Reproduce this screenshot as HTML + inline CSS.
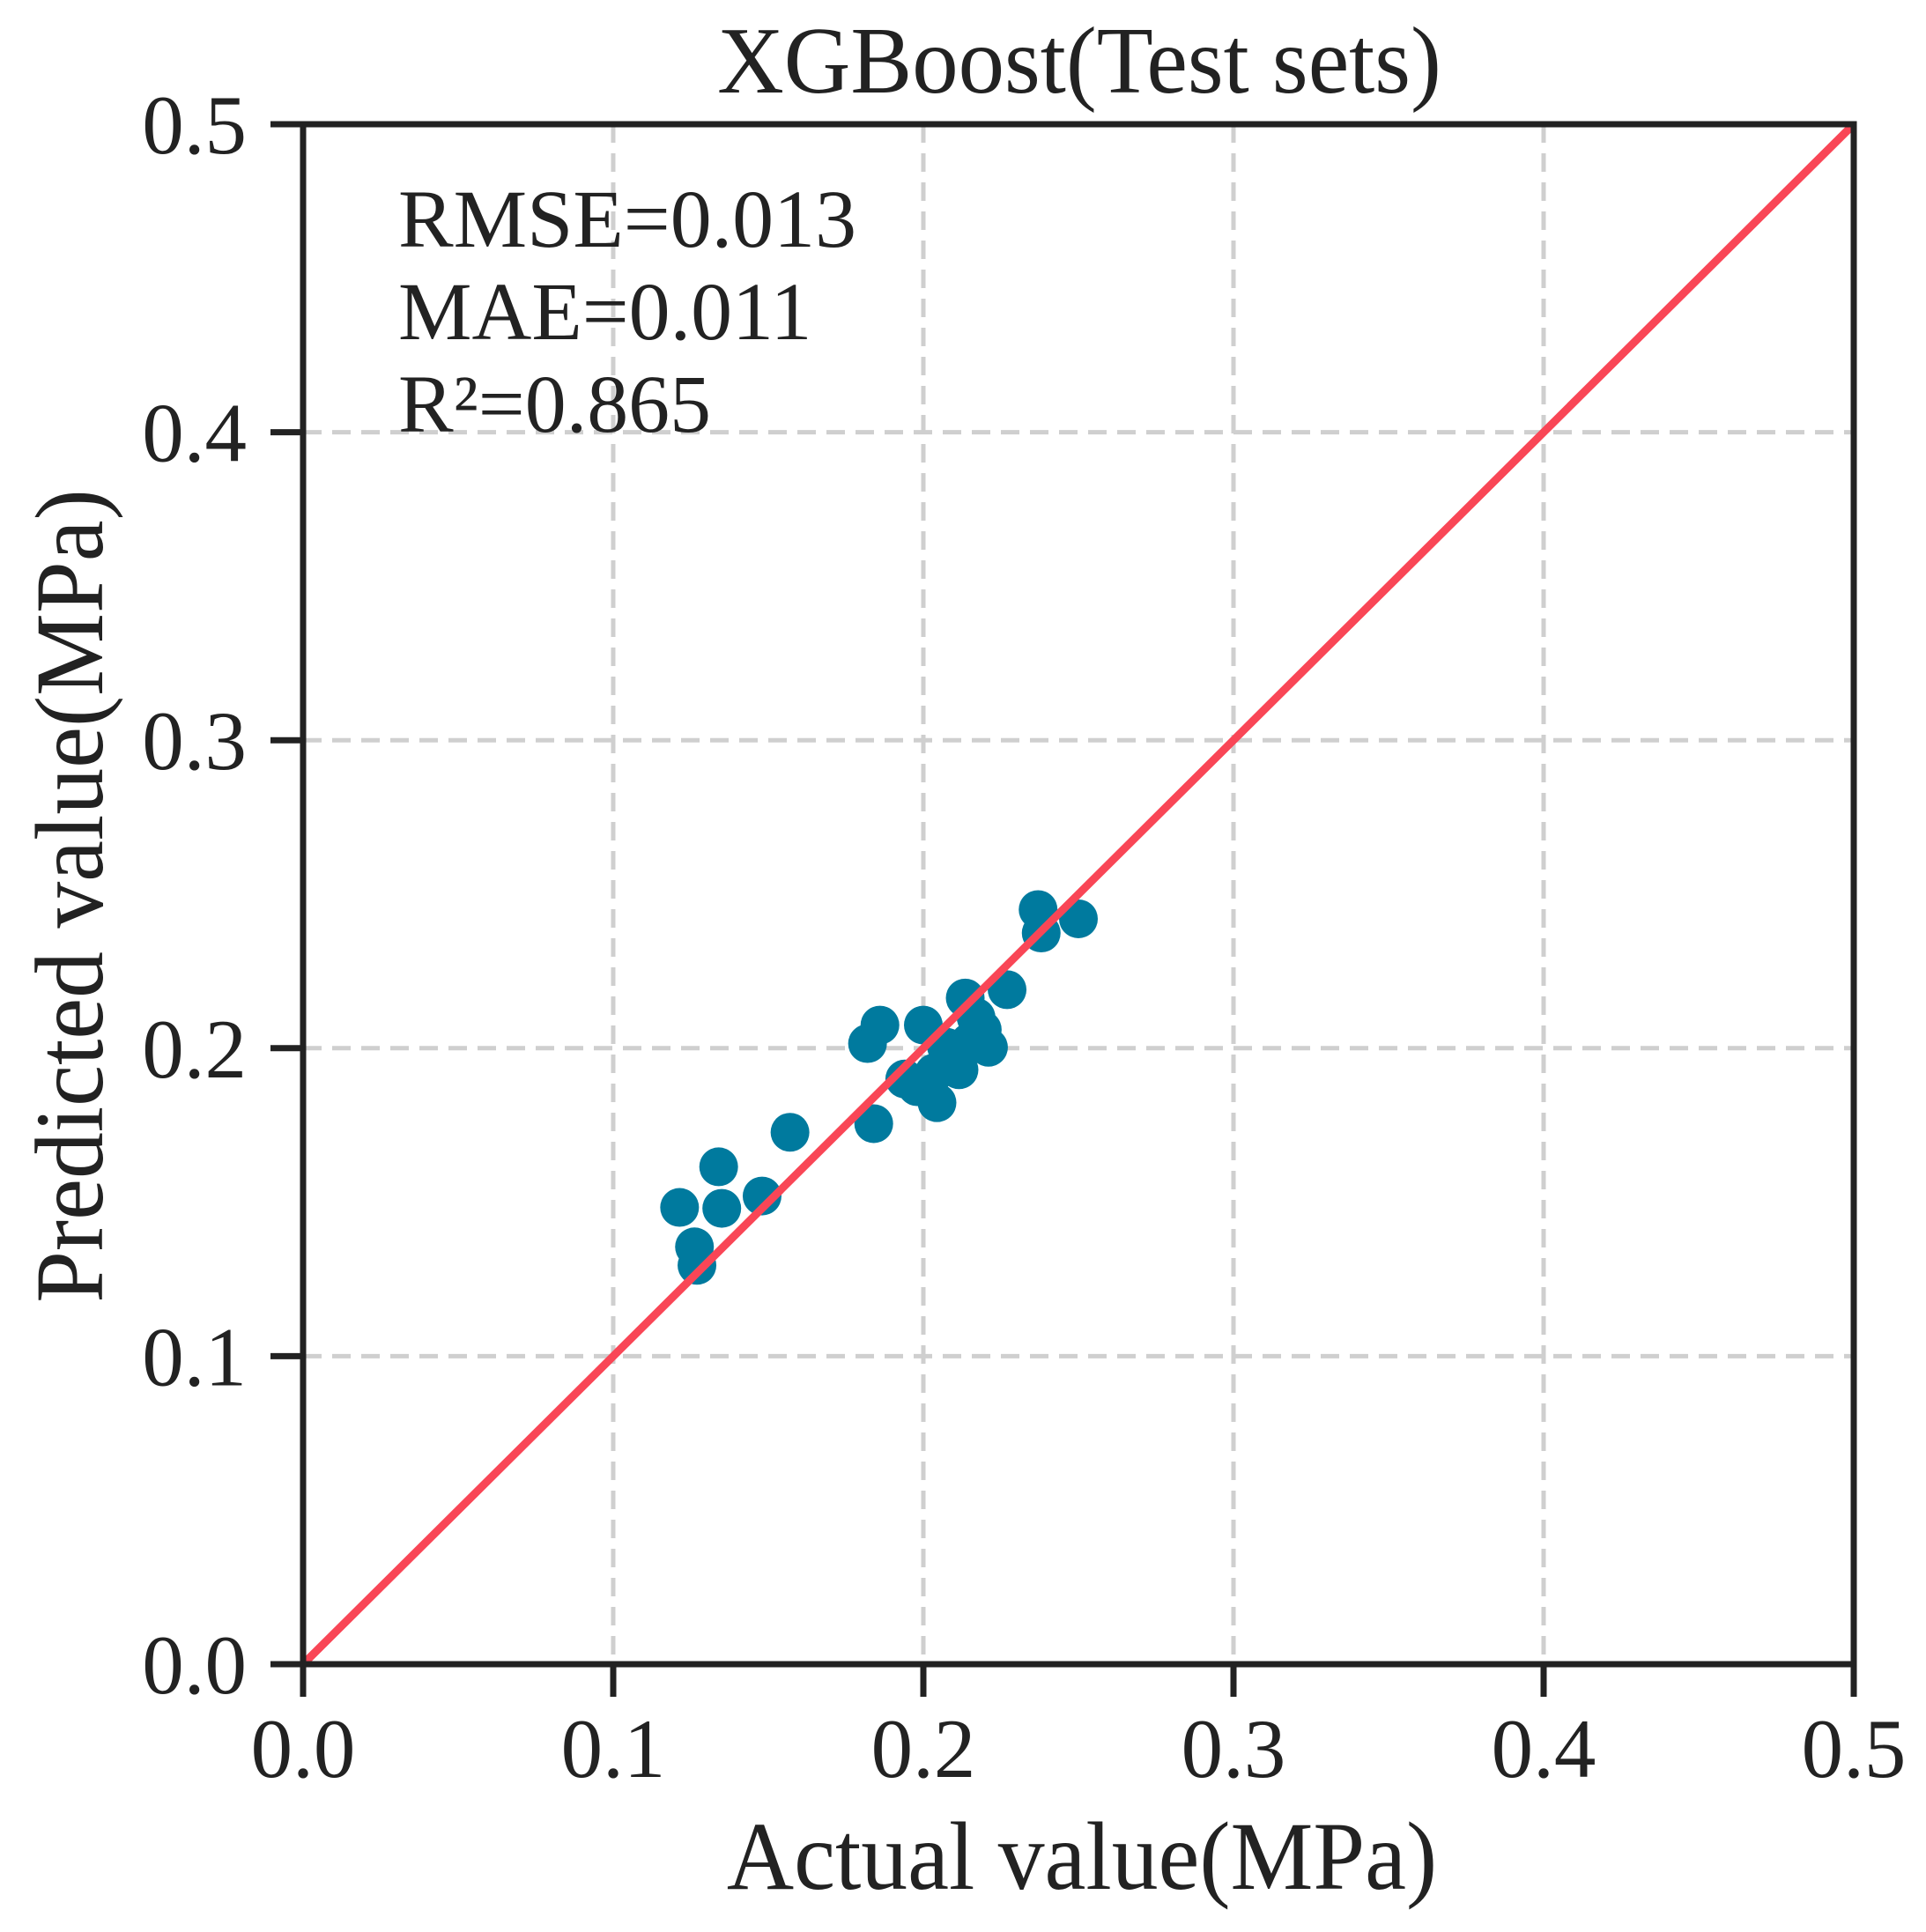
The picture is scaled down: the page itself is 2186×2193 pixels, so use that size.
<!DOCTYPE html>
<html><head><meta charset="utf-8"><style>
html,body{margin:0;padding:0;background:#fff;}
svg{display:block;}
text{font-family:"Liberation Serif","Times New Roman",serif;fill:#222;}
</style></head><body>
<svg id="chart" width="2186" height="2193" viewBox="0 0 2186 2193" xmlns="http://www.w3.org/2000/svg">
<g id="grid"></g>
<g id="points"></g>
<g id="fitline"></g>
<g id="axes"></g>
<g id="labels"></g>
</svg>
<script>
const actualValues = [0.1214,0.1262,0.127,0.134,0.135,0.148,0.157,0.182,0.186,0.184,0.2,0.194,0.198,0.2044,0.2035,0.2115,0.2135,0.219,0.221,0.227,0.215,0.2075,0.217,0.237,0.238,0.250];
const predictedValues = [0.1483,0.1355,0.1295,0.1615,0.148,0.152,0.1727,0.2015,0.2075,0.1755,0.2075,0.190,0.1875,0.1823,0.192,0.193,0.2163,0.206,0.2003,0.219,0.202,0.2003,0.210,0.245,0.2374,0.242];
const tickValues = [0.0,0.1,0.2,0.3,0.4,0.5];
const tickLabels = ["0.0","0.1","0.2","0.3","0.4","0.5"];
const metricLines = ["RMSE=0.013","MAE=0.011","R\u00B2=0.865"];

const NS="http://www.w3.org/2000/svg";
const L=344,R=2104,T=141,B=1889;
const xs=v=>L+(v-0)/(0.5-0)*(R-L);
const ys=v=>B-(v-0)/(0.5-0)*(B-T);
function mk(tag,attrs,parent){const e=document.createElementNS(NS,tag);for(const k in attrs)e.setAttribute(k,attrs[k]);parent.appendChild(e);return e;}
function txt(parent,x,y,s,size,anchor,rot,sx){
  const e=mk('text',{transform:`translate(${x},${y}) ${rot?'rotate(-90) ':''}scale(${sx},1)`,'font-size':size,'text-anchor':anchor},parent);
  e.textContent=s;return e;}

const grid=document.getElementById('grid');
tickValues.forEach((v,i)=>{
  if(v>0&&v<0.5){
    const gx=mk('line',{x1:xs(v),x2:xs(v),y1:T,y2:B,stroke:'#cfcfcf','stroke-width':5,'stroke-dasharray':'21 12'},grid);
    
    
    const gy=mk('line',{x1:L,x2:R,y1:ys(v),y2:ys(v),stroke:'#cfcfcf','stroke-width':5,'stroke-dasharray':'21 12'},grid);
    
    
  }
});

const pts=document.getElementById('points');
actualValues.forEach((a,i)=>{
  const c=mk('circle',{cx:xs(a),cy:ys(predictedValues[i]),r:22,fill:'#007a9e'},pts);
  
  
});

const fl=document.getElementById('fitline');
const ln=mk('line',{x1:xs(0),y1:ys(0),x2:xs(0.5),y2:ys(0.5),stroke:'#f94656','stroke-width':9},fl);



const ax=document.getElementById('axes');
const fr=mk('rect',{x:L,y:T,width:R-L,height:B-T,fill:'none',stroke:'#222','stroke-width':7},ax);


const lab=document.getElementById('labels');
tickValues.forEach((v,i)=>{
  const tx=mk('line',{x1:xs(v),x2:xs(v),y1:B,y2:B+37,stroke:'#222','stroke-width':7},ax);
  
  
  const ty=mk('line',{x1:L-37,x2:L,y1:ys(v),y2:ys(v),stroke:'#222','stroke-width':7},ax);
  
  
  const xl=txt(lab,xs(v),2017,tickLabels[i],95,'middle',false,1);
  
  
  const yl=txt(lab,280,ys(v)+33,tickLabels[i],95,'end',false,1);
  
  
});
const title=txt(lab,1225,105,'XGBoost(Test sets)',108,'middle',false,0.97);


const xt=txt(lab,1228,2144,'Actual value(MPa)',110,'middle',false,0.96);


const yt=txt(lab,116,1017,'Predicted value(MPa)',110,'middle',true,0.96);


metricLines.forEach((s,i)=>{
  const m=txt(lab,452,280+i*105,s,93,'start',false,1.01);
  
  
});
</script>
</body></html>
